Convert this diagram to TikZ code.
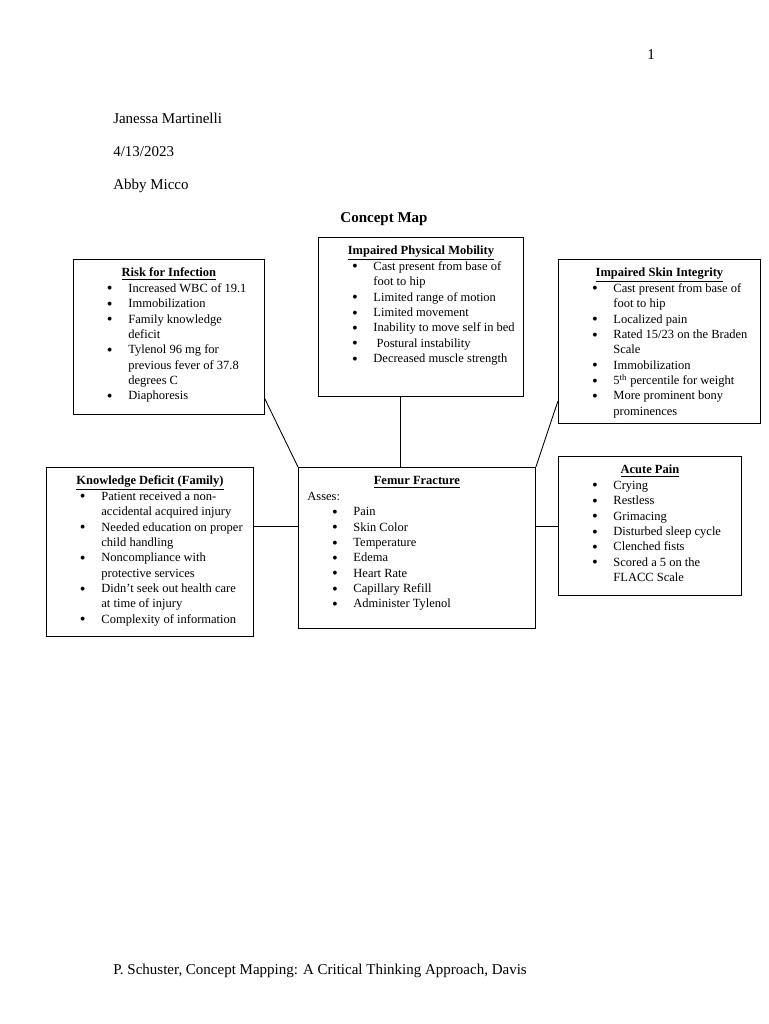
\documentclass[tikz,border=0pt]{standalone}
\usepackage{fontspec}
\setmainfont{Liberation Serif}
\usepackage{enumitem}
\usetikzlibrary{positioning,calc}

\setlist[itemize]{label={\raisebox{-1.3pt}{\fontsize{13}{12.3}\selectfont\textbullet}}, leftmargin=44pt, labelsep=12.6pt, itemsep=0pt, topsep=0pt, parsep=0pt, partopsep=0pt}
\setlength{\parskip}{0pt}
\newcommand{\boxhead}[1]{{\centering\strut\textbf{\underline{#1}}\par}}
\newcommand{\mapcard}[3]{\parbox[t][#2][t]{#1}{\vspace*{5.4pt}#3}}

\begin{document}
\begin{tikzpicture}[
    x=0.8pt, y=-0.8pt,
    conceptbox/.style={draw, line width=0.7pt, anchor=north west, inner sep=0pt, font=\fontsize{10}{12.3}\selectfont},
    pagetext/.style={anchor=base west, inner sep=0pt, font=\fontsize{12}{14}\selectfont},
    link/.style={line width=0.7pt}
]
\fill[white] (0,0) rectangle (768,1024);
\useasboundingbox (0,0) rectangle (768,1024);

% page heading
\node[pagetext, anchor=base] (pagenum) at (651,60) {1};
\node[pagetext] (student) at (113,124) {Janessa Martinelli};
\node[pagetext] (date) at (113,157) {4/13/2023};
\node[pagetext] (patient) at (113,190) {Abby Micco};
\node[pagetext, anchor=base, font=\fontsize{12}{14}\selectfont\bfseries] (title) at (384,223) {Concept Map};

% nursing diagnoses
\node[conceptbox] (risk) at (73,259) {\mapcard{152.8pt}{124pt}{%
  \boxhead{Risk for Infection}
  \begin{itemize}
    \item Increased WBC of 19.1
    \item Immobilization
    \item Family knowledge\newline deficit
    \item Tylenol 96 mg for\newline previous fever of 37.8\newline degrees C
    \item Diaphoresis
  \end{itemize}}};

\node[conceptbox] (mobility) at (318,237) {\mapcard{164pt}{127.2pt}{%
  \boxhead{Impaired Physical Mobility}
  \begin{itemize}
    \item Cast present from base of\newline foot to hip
    \item Limited range of motion
    \item Limited movement
    \item Inability to move self in bed
    \item \hspace{2.5pt}Postural instability
    \item Decreased muscle strength
  \end{itemize}}};

\node[conceptbox] (skin) at (558,259) {\mapcard{161.6pt}{131.2pt}{%
  \boxhead{Impaired Skin Integrity}
  \begin{itemize}
    \item Cast present from base of\newline foot to hip
    \item Localized pain
    \item Rated 15/23 on the Braden\newline Scale
    \item Immobilization
    \item 5\textsuperscript{th} percentile for weight
    \item More prominent bony\newline prominences
  \end{itemize}}};

\node[conceptbox] (knowledge) at (46,467) {\mapcard{165.6pt}{135.2pt}{%
  \boxhead{Knowledge Deficit (Family)}
  \begin{itemize}
    \item Patient received a non-\newline accidental acquired injury
    \item Needed education on proper\newline child handling
    \item Noncompliance with\newline protective services
    \item Didn’t seek out health care\newline at time of injury
    \item Complexity of information
  \end{itemize}}};

\node[conceptbox] (femur) at (298,467) {\mapcard{189.6pt}{128.8pt}{%
  \boxhead{Femur Fracture}
  \hspace*{7.2pt}Asses:\par
  \begin{itemize}
    \item Pain
    \item Skin Color
    \item Temperature
    \item Edema
    \item Heart Rate
    \item Capillary Refill
    \item Administer Tylenol
  \end{itemize}}};

\node[conceptbox] (acute) at (558,456) {\mapcard{146.4pt}{111.2pt}{%
  \boxhead{Acute Pain}
  \begin{itemize}
    \item Crying
    \item Restless
    \item Grimacing
    \item Disturbed sleep cycle
    \item Clenched fists
    \item Scored a 5 on the\newline FLACC Scale
  \end{itemize}}};

% links to the central problem
\draw[link] ([yshift=12.8pt]risk.south east) -- (femur.north west);
\draw[link] (mobility.south) ++(-20.5,0) coordinate (mobfoot) -- (mobfoot |- femur.north);
\draw[link] ([yshift=18.4pt]skin.south west) -- (femur.north east);
\draw[link] ([yshift=17.2pt]femur.west) coordinate (kfoot) -- (kfoot -| knowledge.east);
\draw[link] ([yshift=17.2pt]femur.east) coordinate (afoot) -- (afoot -| acute.west);

% source
\node[pagetext] (source) at (113,974) {P. Schuster, Concept Mapping: A Critical Thinking Approach, Davis};
\end{tikzpicture}
\end{document}
